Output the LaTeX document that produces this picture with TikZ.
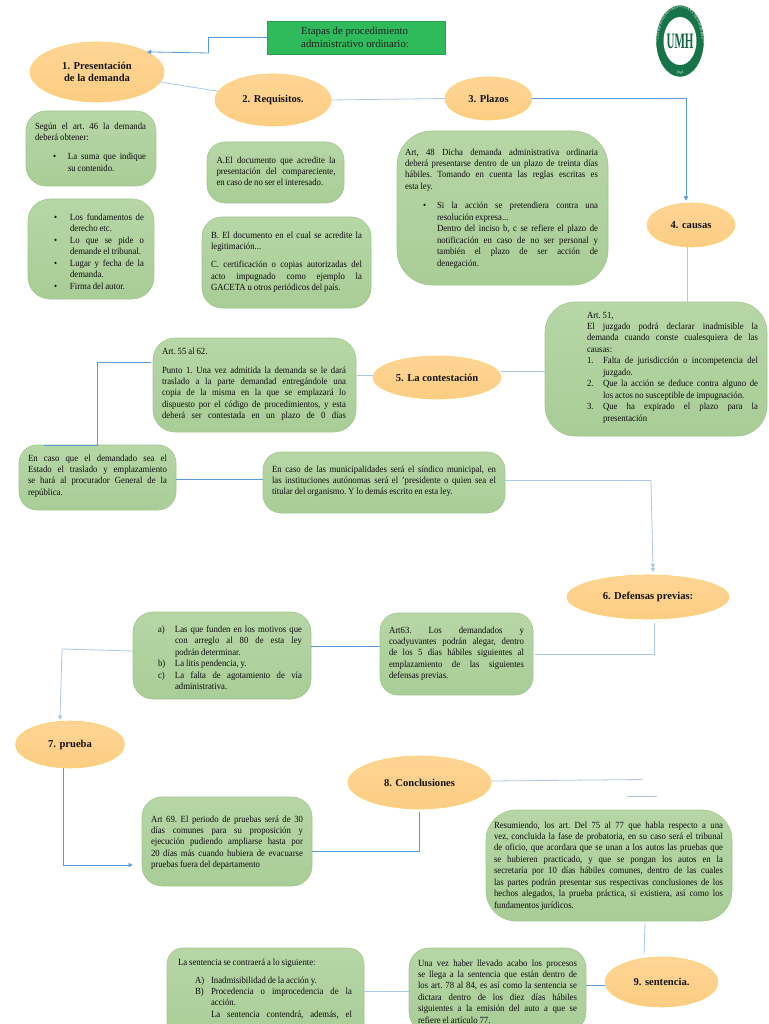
\documentclass[tikz,border=0pt]{standalone}
\usepackage{fontspec}
\setmainfont[FakeStretch=0.93]{Liberation Serif}
\newfontfamily\plainserif{Liberation Serif}
\usetikzlibrary{shapes.geometric,arrows.meta,decorations.text}
\definecolor{gTop}{HTML}{B6D6A6}
\definecolor{gBot}{HTML}{A9CD97}
\definecolor{gEdge}{HTML}{A2C78F}
\definecolor{oTop}{HTML}{FFD596}
\definecolor{oBot}{HTML}{FCCD82}
\definecolor{oEdge}{HTML}{FBD06E}
\definecolor{tGreen}{HTML}{2FBA5C}
\definecolor{lnk}{HTML}{5B9BD5}
\definecolor{lnkL}{HTML}{A8C9E8}
\definecolor{umh}{HTML}{17744A}
\newcommand\bodyfont{\fontsize{9.4}{11.45}\selectfont\sloppy\frenchspacing\hyphenpenalty=10000\exhyphenpenalty=10000\color{black!95}}
\newcommand\brk{\linebreak}
\newcommand\gap[1]{\par\vspace{#1pt}}
\newcommand\itm[3]{\par\hangindent=#1pt\hangafter=1\noindent\strut\hbox to #1pt{\hskip #2pt #3\hfil}\ignorespaces}
\newcommand\cont[1]{\par\hangindent=#1pt\hangafter=0\noindent\strut\ignorespaces}
\newcommand\just{\leftskip=0pt\rightskip=0pt\parfillskip=0pt plus 1fil\spaceskip=1.9pt plus 30pt minus .8pt\xspaceskip=\spaceskip\relax}
\tikzset{
  gbox/.style={draw=gEdge,line width=.6pt,top color=gTop,bottom color=gBot,inner sep=0pt,outer sep=0pt},
  gtext/.style={anchor=north west,inner sep=0pt,outer sep=0pt,font=\bodyfont,align=justify},
  oval/.style={ellipse,draw=oEdge,line width=.6pt,top color=oTop,bottom color=oBot,inner sep=0pt,outer sep=0pt,align=center,font=\plainserif\fontsize{10.6}{11.6}\selectfont\bfseries\color{black!92}},
  conn/.style={draw=lnk,line width=.8pt},
  connL/.style={draw=lnkL,line width=.8pt},
  arr/.style={-{Latex[length=4.5pt,width=5pt]}},
  arrTwo/.style={-{Latex[length=4pt,width=5pt]Latex[length=4pt,width=5pt]}}
}
\newcommand\gbx[6]{\node[gbox,rounded corners=#6pt,minimum width={(#4-#2)*1pt},minimum height={(#5-#3)*1pt}] (#1) at ({(#2+#4)/2},{(#3+#5)/2}) {};}
\newcommand\gtxt[5]{\node[gtext,text width=#4pt] (#1) at (#2,#3) {\just\strut #5\par};}
\newcommand\gtxtL[5]{\node[gtext,text width=#4pt] (#1) at (#2,#3) {\just #5\par};}
\newcommand\ovl[6]{\node[oval,minimum width={2*#4*1pt},minimum height={2*#5*1pt}] (#1) at (#2,#3) {#6};}
\begin{document}
\begin{tikzpicture}[x=1pt,y=-1pt]
\useasboundingbox (0,0) rectangle (768,1024);
\clip (0,0) rectangle (768,1024);
\fill[white] (0,0) rectangle (768,1024);

% title
\node[draw=tGreen!85!black,line width=.4pt,fill=tGreen,inner sep=0pt,outer sep=0pt,minimum width=178pt,minimum height=33pt] (title) at (356,37.5) {};
\node[anchor=north west,inner sep=0pt,font=\plainserif\fontsize{10.8}{13}\selectfont\color{black!88},align=left] (titleT) at (301,25.5) {\strut Etapas de procedimiento\\ administrativo ordinario:};

% logo
\node[ellipse,fill=umh,draw=umh,inner sep=0pt,minimum width=47pt,minimum height=71pt] (logo) at (680,41) {};
\node[ellipse,fill=white,inner sep=0pt,minimum width=33pt,minimum height=48pt] (logoIn) at (680,41) {};
\node[inner sep=0pt,font=\plainserif\fontsize{22}{22}\selectfont\bfseries\color{umh!85!black}] (logoT) at (680,41) {\scalebox{.5}[1]{UMH}};
\path[decorate,decoration={text along path,text align=center,text={|\plainserif\fontsize{3.6}{4}\selectfont\color{white}|UNIVERSIDAD METROPOLITANA DE HONDURAS}}] (660.6,54.9) arc[start angle=205,end angle=-25,x radius=21.4pt,y radius=33pt];
\path[decorate,decoration={text along path,text align=center,text={|\plainserif\fontsize{3.6}{4}\selectfont\color{white}|2003}}] (670.3,70.4) arc[start angle=243,end angle=297,x radius=21.4pt,y radius=33pt];

% ovals
\ovl{e1}{97}{72}{67}{30}{1. Presentación\\ de la demanda}
\ovl{e2}{273}{100}{58}{26}{2. Requisitos.}
\ovl{e3}{488.5}{98.5}{43.5}{21.5}{3. Plazos}
\ovl{e4}{691}{225}{44}{22}{4. causas}
\ovl{e5}{437}{377.5}{64}{21.5}{5. La contestación}
\ovl{e6}{648}{597}{81}{22}{6. Defensas previas:}
\ovl{e7}{70}{744.5}{54.5}{23.5}{7. prueba}
\ovl{e8}{419.5}{782.5}{71.5}{26.5}{8. Conclusiones}
\ovl{e9}{661.5}{982}{56.5}{25}{9. sentencia.}

% green boxes
\gbx{a}{26}{111}{156}{186}{20}
\gbx{b}{28}{199}{154}{299}{22}
\gbx{c}{207}{142}{344}{203}{18}
\gbx{d}{202}{217}{371}{308}{20}
\gbx{e}{397}{131}{608}{285}{35}
\gbx{f}{545}{302}{767}{436}{30}
\gbx{g}{153}{338}{356}{432}{22}
\gbx{h}{19}{445}{176}{510}{18}
\gbx{i}{263}{452}{505}{513}{18}
\gbx{j}{133}{612}{311}{699}{20}
\gbx{k}{380}{613}{533}{695}{18}
\gbx{l}{142}{797}{312}{886}{20}
\gbx{m}{486}{810}{732}{921}{30}
\gbx{n}{167}{948}{364}{1040}{16}
\gbx{o}{409}{948}{586}{1032}{20}

% texts
\gtxt{aT}{35}{121}{111}{Según el art. 46 la demanda\brk deberá obtener:\gap{8}\itm{33}{18}{•}La suma que indique\brk su contenido.}
\gtxtL{bT}{54}{209}{90}{\itm{16}{0}{•}Los fundamentos de\brk derecho etc.\itm{16}{0}{•}Lo que se pide o\brk demande el tribunal.\itm{16}{0}{•}Lugar y fecha de la\brk demanda.\itm{16}{0}{•}Firma del autor.}
\gtxt{cT}{216.5}{155}{119}{A.El documento que acredite la\brk presentación del compareciente,\brk en caso de no ser el interesado.}
\gtxt{dT}{211}{230}{151}{B. El documento en el cual se acredite la\brk legitimación...\gap{7}\strut C. certificación o copias autorizadas del\brk acto impugnado como ejemplo la\brk GACETA u otros periódicos del país.}
\gtxt{eT}{405}{147}{193}{Art, 48 Dicha demanda administrativa ordinaria\brk deberá presentarse dentro de un plazo de treinta días\brk hábiles. Tomando en cuenta las reglas escritas es\brk esta ley.\gap{8}\itm{32}{18}{•}Si la acción se pretendiera contra una\brk resolución expresa...\cont{32}Dentro del inciso b, c se refiere el plazo de\brk notificación en caso de no ser personal y\brk también el plazo de ser acción de\brk denegación.}
\gtxt{fT}{587}{310}{171}{Art. 51,\par\noindent\strut El juzgado podrá declarar inadmisible la\brk demanda cuando conste cualesquiera de las\brk causas:\itm{16}{0}{1.}Falta de jurisdicción o incompetencia del\brk juzgado.\itm{16}{0}{2.}Que la acción se deduce contra alguno de\brk los actos no susceptible de impugnación.\itm{16}{0}{3.}Que ha expirado el plazo para la\brk presentación}
\gtxt{gT}{162}{346}{184}{Art. 55 al 62.\gap{7.6}\strut Punto 1. Una vez admitida la demanda se le dará\brk traslado a la parte demandad entregándole una\brk copia de la misma en la que se emplazará lo\brk dispuesto por el código de procedimientos, y esta\brk deberá ser contestada en un plazo de 0 días\brk}
\gtxt{hT}{28}{453}{139}{En caso que el demandado sea el\brk Estado el traslado y emplazamiento\brk se hará al procurador General de la\brk república.}
\gtxt{iT}{272}{464}{224}{En caso de las municipalidades será el síndico municipal, en\brk las instituciones autónomas será el 'presidente o quien sea el\brk titular del organismo. Y lo demás escrito en esta ley.}
\gtxtL{jT}{158}{621}{144}{\itm{17}{0}{a)}Las que funden en los motivos que\brk con arreglo al 80 de esta ley\brk podrán determinar.\itm{17}{0}{b)}La litis pendencia, y.\itm{17}{0}{c)}La falta de agotamiento de vía\brk administrativa.}
\gtxt{kT}{389}{625}{135}{Art63. Los demandados y\brk coadyuvantes podrán alegar, dentro\brk de los 5 días hábiles siguientes al\brk emplazamiento de las siguientes\brk defensas previas.}
\gtxt{lT}{151}{814}{152}{Art 69. El periodo de pruebas será de 30\brk días comunes para su proposición y\brk ejecución pudiendo ampliarse hasta por\brk 20 días más cuando hubiera de evacuarse\brk pruebas fuera del departamento}
\gtxt{mT}{494}{820}{229}{Resumiendo, los art. Del 75 al 77 que habla respecto a una\brk vez, concluida la fase de probatoria, en su caso será el tribunal\brk de oficio, que acordara que se unan a los autos las pruebas que\brk se hubieren practicado, y que se pongan los autos en la\brk secretaría por 10 días hábiles comunes, dentro de las cuales\brk las partes podrán presentar sus respectivas conclusiones de los\brk hechos alegados, la prueba práctica, si existiera, así como los\brk fundamentos jurídicos.}
\gtxt{nT}{178}{957}{174}{La sentencia se contraerá a lo siguiente:\gap{6.6}\itm{33}{17}{A)}Inadmisibilidad de la acción y.\itm{33}{17}{B)}Procedencia o improcedencia de la\brk acción.\cont{33}La sentencia contendrá, además, el\brk}
\gtxt{oT}{418}{958}{159}{Una vez haber llevado acabo los procesos\brk se llega a la sentencia que están dentro de\brk los art. 78 al 84, es así como la sentencia se\brk dictara dentro de los diez días hábiles\brk siguientes a la emisión del auto a que se\brk refiere el artículo 77.}

% connector bend / free-end points
\coordinate (b1) at (208.5,53);
\coordinate (b2) at (651,480.5);
\coordinate (b3) at (62,649);
\coordinate (f1) at (642,779.5);
\coordinate (f2) at (627,796);
\coordinate (f3) at (657,796);

% connectors
\draw[conn,arr] (title.west) -| (b1) -- (e1.22);
\draw[connL] (e1) -- (e2);
\draw[connL] (e2.east) -- (e3.west);
\draw[conn,arr] (e3.east) -| ([xshift=-5pt,yshift=2pt]e4.north);
\draw[connL] ([xshift=-4pt]e4.south) -- ([xshift=-4pt]e4.south |- f.north);
\draw[connL] ([yshift=-2pt]f.west) -- ([yshift=-2pt]e5.east |- f.west);
\draw[connL] ([yshift=2pt]e5.west) -- ([yshift=2pt,xshift=1pt]g.east |- e5.west);
\draw[conn] ([yshift=23pt,xshift=-2pt]g.west) -| (h.north) -- ([xshift=-54pt]h.north);
\draw[conn] ([yshift=-2pt]h.east) -- ([yshift=-2pt]h.east -| i.west);
\draw[connL] ([yshift=2pt]i.east) -- (b2);
\draw[connL,arrTwo] (b2) -- ([xshift=5pt,yshift=3pt]e6.north);
\draw[connL] ([xshift=6pt,yshift=-4pt]e6.south) |- ([xshift=2pt]k.east);
\draw[conn] ([yshift=9.5pt]j.east) -- ([yshift=9.5pt]j.east -| k.west);
\draw[connL,arr] ([yshift=4.5pt]j.west) -- (b3) -- ([xshift=-10pt,yshift=1pt]e7.north);
\draw[conn,arr] ([xshift=-7pt]e7.south) |- ([xshift=-9pt,yshift=-23.5pt]l.west);
\draw[conn] ([yshift=-9.5pt]l.east) -| ([yshift=-3pt]e8.south);
\draw[connL] ([yshift=1.5pt]e8.east) -- (f1);
\draw[connL] (f2) -- (f3);
\draw[connL] ([xshift=36pt,yshift=-2pt]m.south) -- ([xshift=-17.5pt,yshift=3pt]e9.north);
\draw[conn] ([yshift=-3pt]e9.west) -- ([yshift=-3pt]e9.west -| o.east);
\draw[connL] ([yshift=3pt]n.east) -- ([yshift=3pt]n.east -| o.west);
\end{tikzpicture}
\end{document}
